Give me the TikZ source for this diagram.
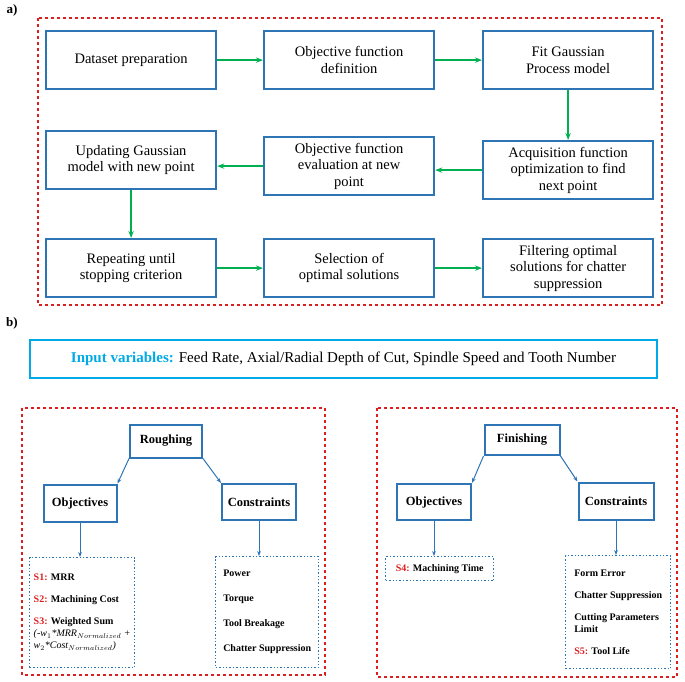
\documentclass[tikz,border=0pt]{standalone}
\usepackage{fontspec}
\setmainfont{Liberation Serif}
\usetikzlibrary{arrows.meta}
\definecolor{bb}{RGB}{46,117,182}
\definecolor{gg}{RGB}{0,176,80}
\definecolor{rr}{RGB}{220,30,30}
\definecolor{cy}{RGB}{0,170,230}
\begin{document}
\begin{tikzpicture}[x=1pt,y=-1pt,
 stepbox/.style={draw=bb,line width=2.2pt,minimum width=170pt,minimum height=58pt,align=center,font=\fontsize{14.5}{16.5}\selectfont,anchor=north west},
 hb/.style={draw=bb,line width=2pt,align=center,font=\bfseries\fontsize{12.5}{14}\selectfont},
 lst/.style={draw=bb,dotted,line width=1.4pt,align=left,font=\bfseries\fontsize{10}{12}\selectfont,anchor=north west,inner sep=4pt},
 ga/.style={-{Stealth[length=7pt]},gg,line width=1.8pt},
 ba/.style={-{Stealth[length=5pt]},bb,line width=1pt},
 redbox/.style={draw=rr,dashed,line width=1.4pt}]
\useasboundingbox (0,0) rectangle (685,681);
\node[font=\bfseries\fontsize{13}{15}\selectfont] (la) at (12,10) {a)};
\draw[redbox] (38,18) rectangle (662,305);
\node[stepbox] (s1) at (45,30) {Dataset preparation};
\node[stepbox] (s2) at (263,30) {Objective function\\definition};
\node[stepbox] (s3) at (482,30) {Fit Gaussian\\Process model};
\node[stepbox] (s6) at (45,130) {Updating Gaussian\\model with new point};
\node[stepbox] (s5) at (263,136) {Objective function\\evaluation at new\\point};
\node[stepbox] (s4) at (482,140) {Acquisition function\\optimization to find\\next point};
\node[stepbox] (s7) at (45,238) {Repeating until\\stopping criterion};
\node[stepbox] (s8) at (263,238) {Selection of\\optimal solutions};
\node[stepbox] (s9) at (482,238) {Filtering optimal\\solutions for chatter\\suppression};
\draw[ga] (s1) -- (s2); \draw[ga] (s2) -- (s3);
\draw[ga] (s3) -- (s4);
\draw[ga] (s4.west) -- (s5.east|-s4.west);
\draw[ga] (s5.west) -- (s6.east|-s5.west);
\draw[ga] (s6) -- (s7);
\draw[ga] (s7) -- (s8); \draw[ga] (s8) -- (s9);
\node[font=\bfseries\fontsize{13}{15}\selectfont] (lb) at (12,323) {b)};
\node[draw=cy,line width=1.8pt,minimum width=627pt,minimum height=38pt,font=\fontsize{15}{17}\selectfont] (inp) at (343.5,359) {\textcolor{cy}{\bfseries Input variables:} Feed Rate, Axial/Radial Depth of Cut, Spindle Speed and Tooth Number};
% left
\draw[redbox] (22,408) rectangle (325,675);
\node[hb,minimum width=72pt,minimum height=33pt] (r) at (166,441) {Roughing};
\node[hb,minimum width=73pt,minimum height=37pt] (o1) at (80,503) {Objectives};
\node[hb,minimum width=74pt,minimum height=36pt] (c1) at (259,502) {Constraints};
\node[lst,minimum width=102pt,minimum height=110pt] (l1) at (29,557) {\textcolor{rr}{S1:} MRR\\[10pt]\textcolor{rr}{S2:} Machining Cost\\[10pt]\textcolor{rr}{S3:} Weighted Sum\\\mdseries\itshape(-w$_1$*MRR$_{Normalized}$ +\\\mdseries\itshape w$_2$*Cost$_{Normalized}$)};
\node[lst,minimum width=103pt,minimum height=111pt] (l2) at (215,556) {Power\\[13pt]Torque\\[13pt]Tool Breakage\\[13pt]Chatter Suppression};
\draw[ba] (r.south west) -- (o1.north east);
\draw[ba] (r.south east) -- (c1.north west);
\draw[ba] (o1) -- (o1|-l1.north);
\draw[ba] (c1) -- (c1|-l2.north);
% right
\draw[redbox] (377,408) rectangle (677,677);
\node[hb,minimum width=75pt,minimum height=30pt] (f) at (522,440) {Finishing};
\node[hb,minimum width=74pt,minimum height=36pt] (o2) at (434,502) {Objectives};
\node[hb,minimum width=75pt,minimum height=37pt] (c2) at (616,501) {Constraints};
\node[lst,minimum width=108pt,minimum height=24pt] (l3) at (385,556) {\textcolor{rr}{S4:} Machining Time};
\node[lst,minimum width=105pt,minimum height=113pt] (l4) at (565,555) {Form Error\\[10pt]Chatter Suppression\\[10pt]Cutting Parameters\\Limit\\[10pt]\textcolor{rr}{S5:} Tool Life};
\draw[ba] (f.south west) -- (o2.north east);
\draw[ba] (f.south east) -- (c2.north west);
\draw[ba] (o2) -- (o2|-l3.north);
\draw[ba] (c2) -- (c2|-l4.north);
\end{tikzpicture}
\end{document}
